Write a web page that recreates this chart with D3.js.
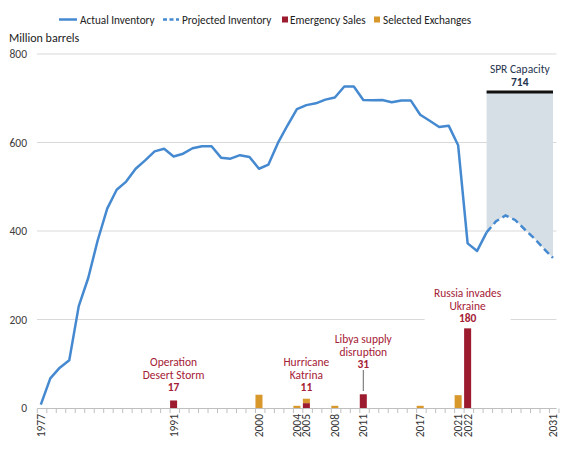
<html>
  <head>
    <script src="https://cdn.jsdelivr.net/npm/d3@7"></script>
    <style>
      body { margin: 0; background: #fff; }
      text { font-family: Carlito, Calibri, Lato, "Open Sans", sans-serif; }
    </style>
  </head>
  <body>
    <script>
      const width = 576, height = 452;

      // years 1977..2031
      const years = d3.range(1977, 2032);
      const actualYears = d3.range(1977, 2025);
      const actualValues = [7.5, 66.9, 91.2, 107.8, 230.3, 293.8, 379.1, 450.5, 493.3, 511.6,
        540.6, 559.5, 579.9, 585.7, 568.5, 574.7, 587.1, 591.7, 591.6, 565.8,
        563.4, 571.4, 567.2, 540.7, 550.2, 599.1, 638.4, 675.6, 684.5, 688.6,
        696.9, 701.8, 726.6, 726.5, 695.9, 695.3, 696.0, 691.0, 695.1, 695.1,
        662.8, 649.1, 635.0, 638.1, 593.7, 372.0, 355.0, 397.0];
      const projYears = [2024, 2025, 2026, 2027, 2028, 2029, 2030, 2031];
      const projValues = [397, 422, 435, 425, 404, 384, 361, 339];
      const capacity = 714;

      const emergencyYears = [1991, 2005, 2011, 2022];
      const emergencyValues = [17, 11, 31, 180];
      const exchangeYears = [2000, 2004, 2005, 2008, 2017, 2021];
      const exchangeValues = [30, 5, 10, 5, 5, 29];

      const tickYears = [1977, 1991, 2000, 2004, 2005, 2008, 2011, 2017, 2021, 2022, 2031];
      const yTicks = [0, 200, 400, 600, 800];

      const lineColor = "#4589d0", redColor = "#9c1b2e", goldColor = "#d8982c", annColor = "#a52035";

      const svg = d3.select("body").append("svg")
        .attr("width", width).attr("height", height);

      const x = d3.scaleBand().domain(years).range([37.3, 556.5]).paddingInner(0.26);
      const cx = y => x(y) + x.bandwidth() / 2;
      const y = d3.scaleLinear().domain([0, 800]).range([408, 54]);

      // gridlines
      svg.append("g").selectAll("line").data(yTicks.filter(d => d > 0)).join("line")
        .attr("x1", 37).attr("x2", 556.5)
        .attr("y1", d => y(d)).attr("y2", d => y(d))
        .attr("stroke", "#d9d9d9").attr("stroke-width", 1);

      svg.append("g").selectAll("text").data(yTicks).join("text")
        .attr("x", 27).attr("y", d => y(d) + 4)
        .attr("text-anchor", "end").attr("font-size", 11.5).attr("fill", "#404040")
        .text(d => d);

      svg.append("text").attr("x", 9).attr("y", 42)
        .attr("font-size", 12).attr("fill", "#222").text("Million barrels");

      // capacity shaded area
      const area = d3.area()
        .x((d, i) => cx(projYears[i]))
        .y0(d => y(d)).y1(y(capacity));
      svg.append("path").datum(projValues)
        .attr("d", area).attr("fill", "#d6dfe5");
      svg.append("line")
        .attr("x1", cx(2024)).attr("x2", cx(2031))
        .attr("y1", y(capacity)).attr("y2", y(capacity))
        .attr("stroke", "#111").attr("stroke-width", 3);
      const capX = (cx(2024) + cx(2031)) / 2;
      svg.append("text").attr("x", capX).attr("y", 73).attr("text-anchor", "middle")
        .attr("font-size", 11.5).attr("fill", "#1f3550").text("SPR Capacity");
      svg.append("text").attr("x", capX).attr("y", 86).attr("text-anchor", "middle")
        .attr("font-size", 11.5).attr("font-weight", "bold").attr("fill", "#1f3550").text(capacity);

      // bars (exchanges stacked on emergency sales)
      const emerg = new Map(emergencyYears.map((d, i) => [d, emergencyValues[i]]));
      svg.append("g").selectAll("rect").data(emergencyYears).join("rect")
        .attr("x", d => x(d)).attr("width", x.bandwidth())
        .attr("y", (d, i) => y(emergencyValues[i]))
        .attr("height", (d, i) => y(0) - y(emergencyValues[i]))
        .attr("fill", redColor);
      svg.append("g").selectAll("rect").data(exchangeYears).join("rect")
        .attr("x", d => x(d)).attr("width", x.bandwidth())
        .attr("y", (d, i) => y(exchangeValues[i] + (emerg.get(d) || 0)))
        .attr("height", (d, i) => y(0) - y(exchangeValues[i]))
        .attr("fill", goldColor);

      // x axis
      svg.append("line").attr("x1", 37.3).attr("x2", 556.5)
        .attr("y1", 408.5).attr("y2", 408.5).attr("stroke", "#bfbfbf");
      svg.append("g").selectAll("line").data(d3.range(years.length + 1)).join("line")
        .attr("x1", i => 37.3 + i * x.step()).attr("x2", i => 37.3 + i * x.step())
        .attr("y1", 408.5).attr("y2", 413).attr("stroke", "#bfbfbf");
      svg.append("g").selectAll("text").data(tickYears).join("text")
        .attr("transform", d => `translate(${cx(d) + 4},414) rotate(-90)`)
        .attr("text-anchor", "end").attr("font-size", 11.5).attr("fill", "#333")
        .text(d => d);

      // inventory lines
      const line = d3.line().x(d => cx(d[0])).y(d => y(d[1]));
      svg.append("path").datum(actualYears.map((d, i) => [d, actualValues[i]]))
        .attr("d", line).attr("fill", "none")
        .attr("stroke", lineColor).attr("stroke-width", 2.5).attr("stroke-linejoin", "round");
      svg.append("path").datum(projYears.map((d, i) => [d, projValues[i]]))
        .attr("d", line).attr("fill", "none")
        .attr("stroke", lineColor).attr("stroke-width", 2.5).attr("stroke-dasharray", "7,4");

      // annotations
      const annotations = [
        { year: 1991, lines: ["Operation", "Desert Storm"], value: 17, top: 366 },
        { year: 2005, lines: ["Hurricane", "Katrina"], value: 11, top: 366 },
        { year: 2011, lines: ["Libya supply", "disruption"], value: 31, top: 343 },
        { year: 2022, lines: ["Russia invades", "Ukraine"], value: 180, top: 297, bg: true }
      ];
      const lh = 12.5;
      annotations.forEach(a => {
        const g = svg.append("g");
        const bg = a.bg ? g.append("rect").attr("fill", "#fff") : null;
        a.lines.forEach((t, i) => {
          g.append("text").attr("x", cx(a.year)).attr("y", a.top + i * lh)
            .attr("text-anchor", "middle").attr("font-size", 11.5).attr("fill", annColor).text(t);
        });
        g.append("text").attr("x", cx(a.year)).attr("y", a.top + 2 * lh)
          .attr("text-anchor", "middle").attr("font-size", 11.5).attr("font-weight", "bold")
          .attr("fill", annColor).text(a.value);
        if (bg) {
          bg.attr("x", cx(a.year) - 43).attr("y", a.top - 11)
            .attr("width", 86).attr("height", 38);
        }
      });
      svg.append("line").attr("x1", cx(2011)).attr("x2", cx(2011))
        .attr("y1", 370).attr("y2", 391).attr("stroke", "#666").attr("stroke-width", 1);

      // legend
      const lg = svg.append("g");
      lg.append("line").attr("x1", 59).attr("x2", 77).attr("y1", 19.5).attr("y2", 19.5)
        .attr("stroke", lineColor).attr("stroke-width", 2.5);
      lg.append("text").attr("x", 80).attr("y", 24).attr("font-size", 11.2).attr("fill", "#222").text("Actual Inventory");
      lg.append("line").attr("x1", 163).attr("x2", 179).attr("y1", 19.5).attr("y2", 19.5)
        .attr("stroke", lineColor).attr("stroke-width", 2.5).attr("stroke-dasharray", "4,2.5");
      lg.append("text").attr("x", 182).attr("y", 24).attr("font-size", 11.2).attr("fill", "#222").text("Projected Inventory");
      lg.append("rect").attr("x", 282).attr("y", 16.5).attr("width", 6).attr("height", 6).attr("fill", redColor);
      lg.append("text").attr("x", 290).attr("y", 24).attr("font-size", 11.2).attr("fill", "#222").text("Emergency Sales");
      lg.append("rect").attr("x", 374).attr("y", 16.5).attr("width", 6).attr("height", 6).attr("fill", goldColor);
      lg.append("text").attr("x", 383).attr("y", 24).attr("font-size", 11.2).attr("fill", "#222").text("Selected Exchanges");
    </script>
  </body>
</html>
